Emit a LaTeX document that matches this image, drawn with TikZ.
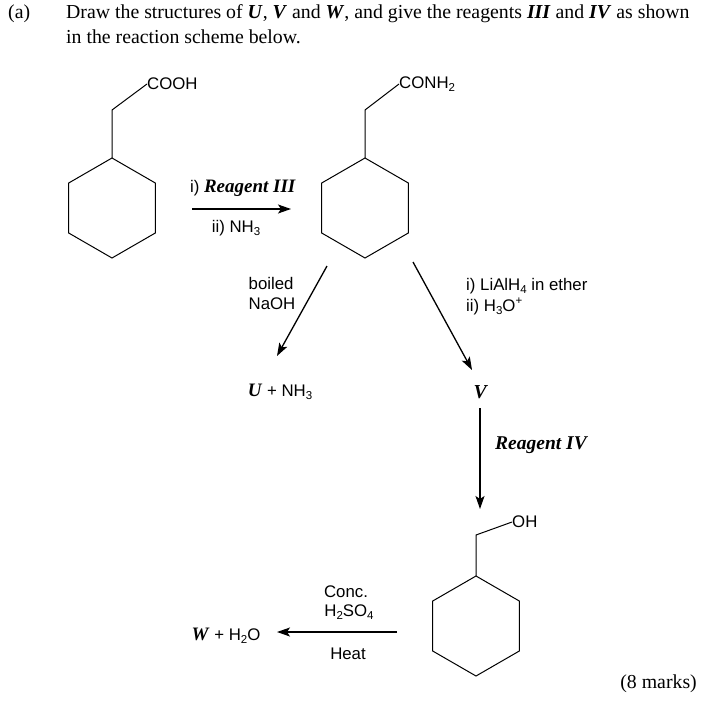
\documentclass[tikz,border=0pt]{standalone}
\usepackage{fontspec}
\usetikzlibrary{arrows.meta}
\setmainfont{Liberation Serif}
\newfontfamily\arial{Liberation Sans}
\newcommand\chsub[1]{\raisebox{-0.35ex}{\fontsize{11.5}{12}\selectfont #1}}
\newcommand\chsup[1]{\raisebox{0.8ex}{\fontsize{11.5}{12}\selectfont #1}}
\begin{document}
\begin{tikzpicture}[x=1pt,y=-1pt,
  bond/.style={line width=1pt},
  arr/.style={line width=1.3pt,-{Stealth[length=13pt,width=9pt,inset=3pt]}},
  lab/.style={font=\arial\fontsize{16.8}{20}\selectfont,inner sep=0pt,align=left},
  ser/.style={font=\fontsize{19.8}{22}\selectfont,inner sep=0pt}]
\useasboundingbox (0,0) rectangle (711,707);
\node[ser,anchor=west] (a) at (8,14) {(a)};
\node[ser,anchor=west] (h1) at (66,14) {Draw the structures of \textbf{\textit{U}}, \textbf{\textit{V}} and \textbf{\textit{W}}, and give the reagents \textbf{\textit{III}} and \textbf{\textit{IV}} as shown};
\node[ser,anchor=west] (h2) at (66,37) {in the reaction scheme below.};
\node[ser,anchor=east] (m) at (697,684) {(8 marks)};
\foreach \c/\cy/\n in {112/208/A,365/208/B,476/626/C}{
  \draw[bond] (\c,\cy-50) -- (\c+43.3,\cy-25) -- (\c+43.3,\cy+25) -- (\c,\cy+50) -- (\c-43.3,\cy+25) -- (\c-43.3,\cy-25) -- cycle;
}
\node[lab,anchor=west] (cooh) at (147,84) {COOH};
\draw[bond] (112,158) -- (112,110) -- (cooh.west);
\node[lab,anchor=west] (conh) at (399,84) {CONH\chsub{2}};
\draw[bond] (365,158) -- (365,110) -- (conh.west);
\node[lab,anchor=west] (oh) at (512,522) {OH};
\draw[bond] (476,576) -- (476,535) -- (oh.west);
\coordinate (r1) at (192,209); \coordinate (r2) at (291,209);
\draw[arr] (r1) -- (r2);
\node[lab] (l1) at (243,188) {i) \textbf{\textit{\fontsize{19}{20}\selectfont\rmfamily Reagent III}}};
\node[lab] (l2) at (236,228) {ii) NH\chsub{3}};
\coordinate (d1) at (327,266); \coordinate (d2) at (277,356);
\draw[arr] (d1) -- (d2);
\node[lab] (l3) at (272,293) {boiled\\NaOH};
\node[lab] (u) at (280,392) {\textbf{\textit{\rmfamily\fontsize{19}{20}\selectfont U}} + NH\chsub{3}};
\coordinate (e1) at (413,262); \coordinate (e2) at (472,370);
\draw[arr] (e1) -- (e2);
\node[lab,anchor=west] (l4) at (466,286) {i) LiAlH\chsub{4} in ether};
\node[lab,anchor=west] (l5) at (466,306) {ii) H\chsub{3}O\chsup{+}};
\node[ser] (v) at (481,392) {\textbf{\textit{V}}};
\coordinate (v1) at (480,408); \coordinate (v2) at (480,509);
\draw[arr] (v1) -- (v2);
\node[ser,font=\bfseries\itshape\fontsize{19.5}{22}\selectfont] (r4) at (541,445) {Reagent IV};
\coordinate (b1) at (397,632); \coordinate (b2) at (277,632);
\draw[arr] (b1) -- (b2);
\node[lab] (c1) at (346,592) {Conc.};
\node[lab] (c2) at (349,612) {H\chsub{2}SO\chsub{4}};
\node[lab] (c3) at (348,654) {Heat};
\node[lab] (w) at (226,636) {\textbf{\textit{\rmfamily\fontsize{19}{20}\selectfont W}} + H\chsub{2}O};
\end{tikzpicture}
\end{document}
